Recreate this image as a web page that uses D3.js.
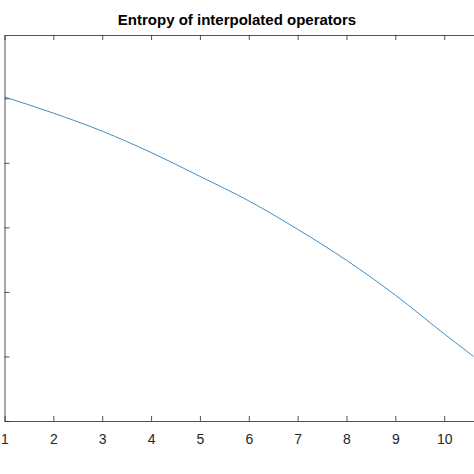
<!DOCTYPE html>
<html><head><meta charset="utf-8">
<script src="https://cdn.jsdelivr.net/npm/d3@7"></script>
<style>body{margin:0;background:#fff}</style>
</head><body>
<svg id="chart" width="474" height="474"></svg>
<script>
// values (y in arbitrary units, tick spacing 1)
const xs = [1, 2, 3, 4, 5, 6, 7, 8, 9, 10, 10.6];
const entropy = [5.02, 4.77, 4.49, 4.16, 3.79, 3.41, 2.97, 2.49, 1.95, 1.35, 1.0];
const xTicks = [1, 2, 3, 4, 5, 6, 7, 8, 9, 10];
const yTicks = [0, 1, 2, 3, 4, 5];

const svg = d3.select('#chart');
const plotLeft = 4.5, plotRight = 474, plotTop = 35, plotBottom = 421;

const x = d3.scaleLinear().domain([1, 10.61]).range([plotLeft, plotRight]);
const y = d3.scaleLinear().domain([0, 5.98]).range([plotBottom, plotTop]);

const xAxis = svg.append('g')
    .attr('transform', `translate(0,${plotBottom})`)
    .call(d3.axisBottom(x).tickValues(xTicks).tickSizeInner(-5).tickSizeOuter(0).tickPadding(13));
svg.append('g')
    .attr('transform', `translate(${plotLeft},0)`)
    .call(d3.axisLeft(y).tickValues(yTicks).tickSizeInner(-5).tickSizeOuter(0).tickFormat(''));
// top box edge with ticks
svg.append('g')
    .attr('transform', `translate(0,${plotTop})`)
    .call(d3.axisTop(x).tickValues(xTicks).tickSizeInner(-5).tickSizeOuter(0).tickFormat(''));

svg.selectAll('.domain, .tick line').attr('stroke', '#262626').attr('stroke-width', 0.8);
xAxis.selectAll('text').attr('font-family', 'Liberation Sans, Arial, sans-serif')
    .attr('font-size', 14).attr('fill', '#262626');

svg.append('path')
    .datum(xs.map((d, i) => [d, entropy[i]]))
    .attr('fill', 'none')
    .attr('stroke', '#3d8fc6')
    .attr('stroke-width', 1)
    .attr('d', d3.line().x(d => x(d[0])).y(d => y(d[1])).curve(d3.curveMonotoneX));

svg.append('text')
    .attr('x', 237).attr('y', 25)
    .attr('text-anchor', 'middle')
    .attr('font-family', 'Liberation Sans, Arial, sans-serif')
    .attr('font-weight', 'bold').attr('font-size', 15)
    .text('Entropy of interpolated operators');
</script>
</body></html>
